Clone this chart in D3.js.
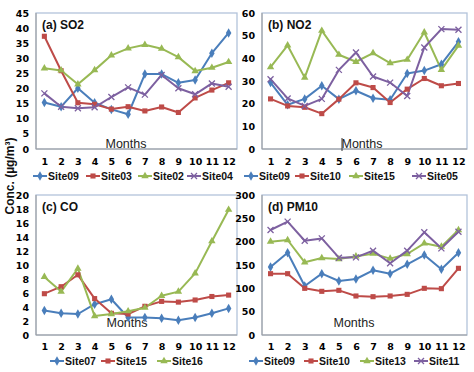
<!DOCTYPE html>
<html><head><meta charset="utf-8">
<script src="https://cdn.jsdelivr.net/npm/d3@7"></script>
<style>
html,body{margin:0;padding:0;background:#fff;}
svg{display:block;}
</style></head>
<body><svg id="chart" width="474" height="372"></svg>
<script>
// ---- tick labels / categories ----
const months = [1,2,3,4,5,6,7,8,9,10,11,12];

// ---- (a) SO2 ----
const so2Site09 = [15.4,14.0,20.1,15.3,13.1,11.5,24.8,24.8,21.9,22.8,31.7,38.4];
const so2Site03 = [37.3,25.9,15.3,14.8,13.2,14.0,12.6,13.9,12.1,16.9,19.5,21.9];
const so2Site02 = [26.7,26.0,21.4,26.1,31.0,33.3,34.5,33.2,30.4,25.8,26.9,28.8];
const so2Site04 = [18.4,14.0,13.5,13.8,17.2,20.4,18.0,24.5,20.1,18.1,21.7,20.6];
const so2Names  = ["Site09","Site03","Site02","Site04"];
const so2Ticks  = [0,5,10,15,20,25,30,35,40,45];

// ---- (b) NO2 ----
const no2Site09 = [29.3,19.5,22.1,27.9,22.0,25.7,22.4,21.7,33.3,34.6,37.4,47.3];
const no2Site10 = [22.1,19.0,18.4,15.6,22.0,29.2,27.1,20.5,26.4,31.1,27.9,28.9];
const no2Site15 = [36.1,45.7,31.5,52.2,41.6,38.5,42.3,37.9,39.4,51.5,34.9,45.6];
const no2Site05 = [30.8,22.3,19.0,22.1,34.9,42.6,32.0,29.3,23.4,44.8,52.9,52.6];
const no2Names  = ["Site09","Site10","Site15","Site05"];
const no2Ticks  = [0,10,20,30,40,50,60];

// ---- (c) CO ----
const coSite07 = [3.5,3.1,3.0,4.4,5.1,2.5,2.5,2.4,2.1,2.5,3.1,3.8];
const coSite15 = [5.9,6.9,8.6,5.2,3.1,3.0,4.1,4.8,4.7,5.0,5.5,5.7];
const coSite16 = [8.3,6.2,9.5,2.7,3.0,3.4,3.9,5.6,6.2,8.8,13.4,17.9];
const coNames  = ["Site07","Site15","Site16"];
const coTicks  = [0,2,4,6,8,10,12,14,16,18,20];

// ---- (d) PM10 ----
const pmSite09 = [145.7,176.4,105.0,131.4,115.7,120.0,138.6,131.4,151.4,171.4,140.7,176.4];
const pmSite10 = [131.4,131.4,100.0,93.6,95.7,83.6,82.1,83.6,87.1,100.0,99.3,142.9];
const pmSite13 = [200.0,203.6,155.7,165.0,162.9,168.6,174.3,163.6,173.6,196.4,189.3,225.0];
const pmSite11 = [225.0,242.9,202.0,207.0,165.7,166.4,180.7,153.6,180.7,220.0,185.7,221.4];
const pmNames  = ["Site09","Site10","Site13","Site11"];
const pmTicks  = [0,50,100,150,200,250,300];

// ---- styles ----
const C = {blue:"#4A7EBB", red:"#BE4B48", green:"#98B954", purple:"#7D60A0"};
const styleA = [{c:C.blue,m:"diamond"},{c:C.red,m:"square"},{c:C.green,m:"triangle"},{c:C.purple,m:"x"}];
const styleC = [{c:C.blue,m:"diamond"},{c:C.red,m:"square"},{c:C.green,m:"triangle"}];

const panels = [
  {title:"(a) SO2", series:[so2Site09,so2Site03,so2Site02,so2Site04], names:so2Names, ticks:so2Ticks,
   box:[36,13,237,149], styles:styleA, months:[126,148], legendY:176, legendX:[33,86,138,187], tickLabelY:165},
  {title:"(b) NO2", series:[no2Site09,no2Site10,no2Site15,no2Site05], names:no2Names, ticks:no2Ticks,
   box:[262,13,467,149], styles:styleA, months:[362,148], legendY:176, legendX:[244,295,349,412], tickLabelY:165, cursor:true},
  {title:"(c) CO", series:[coSite07,coSite15,coSite16], names:coNames, ticks:coTicks,
   box:[36,195,237,335], styles:styleC, months:[127,327], legendY:361, legendX:[50,101,157], tickLabelY:350},
  {title:"(d) PM10", series:[pmSite09,pmSite10,pmSite13,pmSite11], names:pmNames, ticks:pmTicks,
   box:[262,195,467,335], styles:styleA, months:[354,327], legendY:361, legendX:[249,304,360,414], tickLabelY:350}
];

const svg = d3.select("#chart");
const tickFont = "'DejaVu Sans', sans-serif";
const lblFont = "'Liberation Sans', Arial, sans-serif";

function marker(g, type, color, x, y){
  if(type==="x"){
    const s=3;
    g.append("path").attr("d",`M${x-s},${y-s}L${x+s},${y+s}M${x-s},${y+s}L${x+s},${y-s}`)
      .attr("stroke",color).attr("stroke-width",1.3).attr("fill","none");
  } else {
    const sym = type==="diamond"?d3.symbolDiamond:type==="square"?d3.symbolSquare:d3.symbolTriangle;
    const size = type==="diamond"?26:type==="square"?26:24;
    g.append("path").attr("d",d3.symbol(sym,size)()).attr("transform",`translate(${x},${y})`)
      .attr("fill",color);
  }
}

panels.forEach(p=>{
  const [x0,y0,x1,y1]=p.box;
  const g = svg.append("g");
  const x = d3.scalePoint().domain(months).range([x0,x1]).padding(0.5);
  const y = d3.scaleLinear().domain([0,d3.max(p.ticks)]).range([y1,y0]);

  // plot area border
  g.append("rect").attr("x",x0).attr("y",y0).attr("width",x1-x0).attr("height",y1-y0)
    .attr("fill","none").attr("stroke","#B3C3DA").attr("stroke-width",1.3);
  g.append("line").attr("x1",x0).attr("x2",x0).attr("y1",y0).attr("y2",y1).attr("stroke","#9a9a9a").attr("stroke-width",1);
  g.append("line").attr("x1",x0).attr("x2",x1).attr("y1",y1).attr("y2",y1).attr("stroke","#9a9a9a").attr("stroke-width",1);

  // y axis
  const ya = g.append("g").attr("transform",`translate(${x0},0)`)
    .call(d3.axisLeft(y).tickValues(p.ticks).tickSize(0).tickPadding(7));
  ya.select(".domain").remove();
  ya.selectAll("text").attr("font-family",tickFont).attr("font-weight","bold").attr("font-size",9.5).attr("fill","#000");

  // x axis labels
  const xa = g.append("g").attr("transform",`translate(0,${y1})`)
    .call(d3.axisBottom(x).tickSize(0).tickPadding(p.tickLabelY-y1-7));
  xa.select(".domain").remove();
  xa.selectAll("text").attr("font-family",tickFont).attr("font-weight","bold").attr("font-size",9.5).attr("fill","#000");

  // Months
  g.append("text").attr("x",p.months[0]).attr("y",p.months[1]).attr("text-anchor","middle")
    .attr("font-family",lblFont).attr("font-size",12.5).attr("fill","#222").text("Months");
  if(p.cursor){
    g.append("line").attr("x1",p.months[0]-20).attr("x2",p.months[0]-20).attr("y1",p.months[1]-10).attr("y2",p.months[1]+3)
      .attr("stroke","#333").attr("stroke-width",1);
  }

  // title
  g.append("text").attr("x",x0+6).attr("y",y0+16).attr("font-family",lblFont).attr("font-weight","bold")
    .attr("font-size",12).attr("fill","#111").text(p.title);

  // series
  const line = d3.line().x((d,i)=>x(months[i])).y(d=>y(d));
  p.series.forEach((s,k)=>{
    const st=p.styles[k];
    g.append("path").datum(s).attr("d",line).attr("fill","none").attr("stroke",st.c).attr("stroke-width",2)
      .attr("stroke-linejoin","round");
  });
  p.series.forEach((s,k)=>{
    const st=p.styles[k];
    s.forEach((v,i)=>marker(g,st.m,st.c,x(months[i]),y(v)));
  });

  // legend
  p.names.forEach((n,k)=>{
    const st=p.styles[k], lx=p.legendX[k], ly=p.legendY;
    g.append("line").attr("x1",lx).attr("x2",lx+14).attr("y1",ly).attr("y2",ly).attr("stroke",st.c).attr("stroke-width",2);
    marker(g,st.m,st.c,lx+7,ly);
    g.append("text").attr("x",lx+15).attr("y",ly+4).attr("font-family",lblFont).attr("font-weight","bold")
      .attr("font-size",10.5).attr("fill","#111").text(n);
  });
});

// shared y title
svg.append("text").attr("transform","translate(14,176) rotate(-90)").attr("text-anchor","middle")
  .attr("font-family",lblFont).attr("font-weight","bold").attr("font-size",12).attr("fill","#111")
  .text("Conc. (µg/m³)");
</script>
</body></html>
